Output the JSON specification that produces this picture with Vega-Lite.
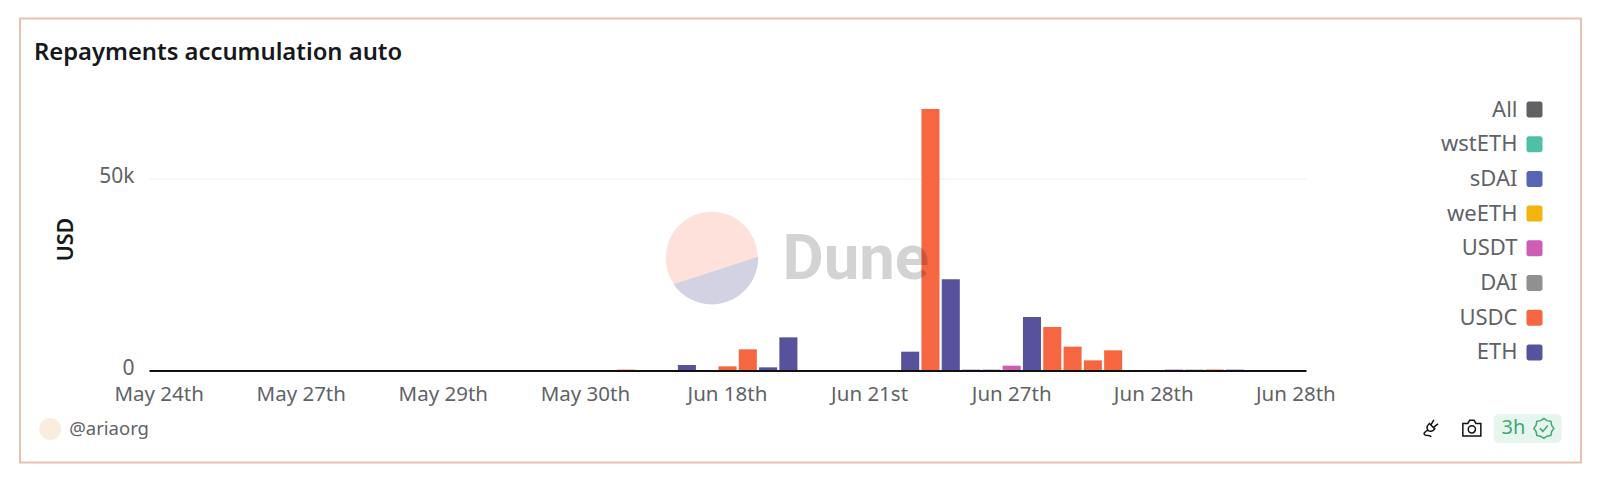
{
  "$schema": "https://vega.github.io/schema/vega-lite/v6.json",
  "autosize": "none",
  "padding": {"left": 20, "top": 18.5, "right": 19, "bottom": 18.5},
  "width": 1561,
  "height": 444,
  "background": "white",
  "title": {"text": "Repayments accumulation auto", "anchor": "start", "frame": "group", "dx": 14, "offset": -46, "font": "Noto Sans", "fontSize": 23.8, "fontWeight": 600, "color": "#16181c"},
  "config": {
    "font": "Noto Sans",
    "view": {"stroke": "#E8C1B0", "strokeWidth": 2}
  },
  "data": {"values": [
    {"time": "2024-05-24 02:00", "token": "ETH", "usd": 0},
    {"time": "2024-05-24 08:00", "token": "ETH", "usd": 0},
    {"time": "2024-05-24 14:00", "token": "ETH", "usd": 0},
    {"time": "2024-05-25 03:00", "token": "ETH", "usd": 0},
    {"time": "2024-05-25 10:00", "token": "ETH", "usd": 0},
    {"time": "2024-05-26 04:00", "token": "ETH", "usd": 0},
    {"time": "2024-05-26 15:00", "token": "ETH", "usd": 0},
    {"time": "2024-05-27 01:00", "token": "ETH", "usd": 0},
    {"time": "2024-05-27 09:00", "token": "ETH", "usd": 0},
    {"time": "2024-05-27 17:00", "token": "ETH", "usd": 0},
    {"time": "2024-05-28 02:00", "token": "ETH", "usd": 0},
    {"time": "2024-05-28 08:00", "token": "ETH", "usd": 0},
    {"time": "2024-05-28 14:00", "token": "ETH", "usd": 0},
    {"time": "2024-05-28 20:00", "token": "ETH", "usd": 0},
    {"time": "2024-05-29 01:00", "token": "ETH", "usd": 0},
    {"time": "2024-05-29 05:00", "token": "ETH", "usd": 0},
    {"time": "2024-05-29 09:00", "token": "ETH", "usd": 0},
    {"time": "2024-05-29 13:00", "token": "ETH", "usd": 0},
    {"time": "2024-05-29 17:00", "token": "ETH", "usd": 0},
    {"time": "2024-05-29 20:00", "token": "ETH", "usd": 0},
    {"time": "2024-05-29 23:00", "token": "ETH", "usd": 0},
    {"time": "2024-05-30 01:00", "token": "ETH", "usd": 0},
    {"time": "2024-05-30 06:00", "token": "ETH", "usd": 0},
    {"time": "2024-05-30 11:00", "token": "USDC", "usd": 100},
    {"time": "2024-05-30 17:00", "token": "ETH", "usd": 0},
    {"time": "2024-05-31 10:00", "token": "ETH", "usd": 0},
    {"time": "2024-06-03 12:00", "token": "ETH", "usd": 1304},
    {"time": "2024-06-10 08:00", "token": "ETH", "usd": 0},
    {"time": "2024-06-18 03:00", "token": "USDC", "usd": 956},
    {"time": "2024-06-18 14:00", "token": "USDC", "usd": 5390},
    {"time": "2024-06-19 06:00", "token": "ETH", "usd": 695},
    {"time": "2024-06-19 18:00", "token": "ETH", "usd": 8520},
    {"time": "2024-06-20 02:00", "token": "ETH", "usd": 0},
    {"time": "2024-06-20 10:00", "token": "ETH", "usd": 0},
    {"time": "2024-06-20 19:00", "token": "ETH", "usd": 0},
    {"time": "2024-06-21 04:00", "token": "ETH", "usd": 0},
    {"time": "2024-06-21 15:00", "token": "ETH", "usd": 0},
    {"time": "2024-06-22 09:00", "token": "ETH", "usd": 4780},
    {"time": "2024-06-23 12:00", "token": "USDC", "usd": 68076},
    {"time": "2024-06-24 16:00", "token": "ETH", "usd": 23640},
    {"time": "2024-06-25 11:00", "token": "ETH", "usd": 80},
    {"time": "2024-06-26 09:00", "token": "ETH", "usd": 80},
    {"time": "2024-06-27 01:00", "token": "USDT", "usd": 1130},
    {"time": "2024-06-27 05:00", "token": "ETH", "usd": 13820},
    {"time": "2024-06-27 09:00", "token": "USDC", "usd": 11215},
    {"time": "2024-06-27 13:00", "token": "USDC", "usd": 6085},
    {"time": "2024-06-27 16:00", "token": "USDC", "usd": 2520},
    {"time": "2024-06-27 19:00", "token": "USDC", "usd": 5130},
    {"time": "2024-06-27 22:00", "token": "ETH", "usd": 0},
    {"time": "2024-06-28 00:00", "token": "ETH", "usd": 0},
    {"time": "2024-06-28 02:00", "token": "USDT", "usd": 120},
    {"time": "2024-06-28 04:00", "token": "DAI", "usd": 100},
    {"time": "2024-06-28 06:00", "token": "USDC", "usd": 120},
    {"time": "2024-06-28 08:00", "token": "ETH", "usd": 90},
    {"time": "2024-06-28 10:00", "token": "ETH", "usd": 0},
    {"time": "2024-06-28 12:00", "token": "ETH", "usd": 0},
    {"time": "2024-06-28 14:00", "token": "ETH", "usd": 0}
  ]},
  "encoding": {
    "x": {
      "field": "time",
      "type": "nominal",
      "scale": {"range": [129, 1286], "paddingInner": 0.11, "paddingOuter": 0.055},
      "axis": {
        "title": null,
        "offset": -92,
        "values": ["2024-05-24 02:00", "2024-05-27 01:00", "2024-05-29 01:00", "2024-05-30 01:00", "2024-06-18 03:00", "2024-06-21 04:00", "2024-06-27 01:00", "2024-06-28 00:00", "2024-06-28 14:00"],
        "labelExpr": "timeFormat(toDate(datum.value), '%b %d') + (slice(datum.value, 8, 10) == '21' ? 'st' : 'th')",
        "labelAngle": 0,
        "labelAlign": "center",
        "labelFontSize": 20.5,
        "labelColor": "#5f6368",
        "labelPadding": 14,
        "ticks": false,
        "domainColor": "#111111",
        "domainWidth": 2,
        "zindex": 1
      }
    },
    "y": {
      "field": "usd",
      "type": "quantitative",
      "stack": null,
      "scale": {"domain": [0, 70000], "range": [351.5, 83.1], "nice": false},
      "axis": {
        "title": "USD",
        "offset": -129,
        "values": [0, 50000],
        "labelExpr": "datum.value == 0 ? '0' : '50k'",
        "grid": true,
        "gridScale": "x",
        "gridColor": "#eeeeee",
        "domain": false,
        "ticks": false,
        "labelFontSize": 21,
        "labelColor": "#5f6368",
        "labelPadding": 15,
        "labelOffset": -2,
        "titleX": -83,
        "titleY": 220.5,
        "titleAngle": 270,
        "titleAlign": "center",
        "titleBaseline": "middle",
        "titleFontSize": 21.5,
        "titleFontWeight": 600,
        "titleColor": "#16181c"
      }
    }
  },
  "layer": [
    {
      "mark": {"type": "bar", "stroke": null},
      "encoding": {
        "color": {
          "field": "token",
          "type": "nominal",
          "scale": {
            "domain": ["All", "wstETH", "sDAI", "weETH", "USDT", "DAI", "USDC", "ETH"],
            "range": ["#5F6165", "#4FBFA5", "#5666B5", "#F2B50F", "#CC5FB5", "#909090", "#F66641", "#56539C"]
          },
          "legend": {
            "title": null,
            "orient": "none",
            "legendX": 1503.5,
            "legendY": 80,
            "symbolType": "M-0.7,-1H0.7A0.3,0.3 0 0 1 1,-0.7V0.7A0.3,0.3 0 0 1 0.7,1H-0.7A0.3,0.3 0 0 1 -1,0.7V-0.7A0.3,0.3 0 0 1 -0.7,-1Z",
            "symbolSize": 256,
            "symbolOpacity": 1,
            "symbolStrokeWidth": 0,
            "labelAlign": "right",
            "labelOffset": -28,
            "labelFontSize": 22,
            "labelColor": "#5f6368",
            "labelLimit": 200,
            "rowPadding": 12.7
          }
        }
      }
    },
    {
      "transform": [{"filter": "datum.time == '2024-06-10 08:00'"}],
      "mark": {"type": "point", "shape": "circle", "filled": true, "fill": "#FEE1DA", "stroke": null, "opacity": 1, "size": 8464, "xOffset": 4.5},
      "encoding": {"y": {"datum": 29290, "type": "quantitative"}}
    },
    {
      "transform": [{"filter": "datum.time == '2024-06-10 08:00'"}],
      "mark": {"type": "point", "shape": "M1.01,-0.02A1.01,1.01 0 0 1 -0.83,0.58Z", "filled": true, "fill": "#D2D2E2", "stroke": null, "opacity": 1, "size": 8464, "xOffset": 4.5},
      "encoding": {"y": {"datum": 29290, "type": "quantitative"}}
    },
    {
      "transform": [{"filter": "datum.time == '2024-06-19 18:00'"}],
      "mark": {"type": "text", "text": "Dune", "font": "Roboto", "fontWeight": "bold", "fontSize": 63.5, "align": "left", "baseline": "middle", "fill": "#000000", "opacity": 0.17, "xOffset": -6},
      "encoding": {"y": {"datum": 28800, "type": "quantitative"}}
    },
    {
      "transform": [{"filter": "datum.time == '2024-05-24 02:00'"}],
      "mark": {"type": "point", "shape": "circle", "filled": true, "fill": "#FBEDDD", "stroke": null, "opacity": 1, "size": 484, "xOffset": -109},
      "encoding": {"y": {"datum": -15390, "type": "quantitative"}}
    },
    {
      "transform": [{"filter": "datum.time == '2024-05-24 02:00'"}],
      "mark": {"type": "text", "text": "@ariaorg", "fontSize": 18.5, "align": "left", "baseline": "middle", "fill": "#5f6368", "xOffset": -90},
      "encoding": {"y": {"datum": -15390, "type": "quantitative"}}
    },
    {
      "transform": [{"filter": "datum.time == '2024-06-28 14:00'"}],
      "mark": {"type": "point", "shape": "M-0.05,-0.55L0.55,0.05C0.35,0.35 0,0.4 -0.2,0.2C-0.4,0 -0.35,-0.3 -0.05,-0.55ZM0.15,-0.45L0.45,-0.95M0.45,-0.15L0.9,-0.5M-0.2,0.2C-0.6,0.4 -0.8,0.6 -0.5,0.75C-0.2,0.85 0,0.7 0.15,0.95", "filled": false, "stroke": "#111111", "strokeWidth": 1.5, "opacity": 1, "size": 324, "xOffset": 134},
      "encoding": {"y": {"datum": -15232, "type": "quantitative"}}
    },
    {
      "transform": [{"filter": "datum.time == '2024-06-28 14:00'"}],
      "mark": {"type": "point", "shape": "M-1,-0.55H-0.45L-0.25,-0.9H0.25L0.45,-0.55H1V0.85H-1ZM0.4,0.1A0.4,0.4 0 1 1 -0.4,0.1A0.4,0.4 0 1 1 0.4,0.1Z", "filled": false, "stroke": "#111111", "strokeWidth": 1.5, "opacity": 1, "size": 324, "xOffset": 176},
      "encoding": {"y": {"datum": -15232, "type": "quantitative"}}
    },
    {
      "transform": [{"filter": "datum.time == '2024-06-28 14:00'"}],
      "mark": {"type": "point", "shape": "M-2.0,-1H2.0A0.34,0.34 0 0 1 2.34,-0.66V0.66A0.34,0.34 0 0 1 2.0,1H-2.0A0.34,0.34 0 0 1 -2.34,0.66V-0.66A0.34,0.34 0 0 1 -2.0,-1Z", "filled": true, "fill": "#E6F6EE", "stroke": null, "opacity": 1, "size": 841, "xOffset": 231.8},
      "encoding": {"y": {"datum": -15232, "type": "quantitative"}}
    },
    {
      "transform": [{"filter": "datum.time == '2024-06-28 14:00'"}],
      "mark": {"type": "text", "text": "3h", "fontSize": 20, "align": "left", "baseline": "middle", "fill": "#3FA873", "xOffset": 205.6},
      "encoding": {"y": {"datum": -15232, "type": "quantitative"}}
    },
    {
      "transform": [{"filter": "datum.time == '2024-06-28 14:00'"}],
      "mark": {"type": "point", "shape": "M1,0L0.776,0.321L0.707,0.707L0.321,0.776L0,1L-0.321,0.776L-0.707,0.707L-0.776,0.321L-1,0L-0.776,-0.321L-0.707,-0.707L-0.321,-0.776L0,-1L0.321,-0.776L0.707,-0.707L0.776,-0.321ZM-0.4,0L-0.1,0.3L0.4,-0.3", "filled": false, "stroke": "#3FA873", "strokeWidth": 1.5, "opacity": 1, "size": 400, "xOffset": 248},
      "encoding": {"y": {"datum": -15232, "type": "quantitative"}}
    }
  ]
}
